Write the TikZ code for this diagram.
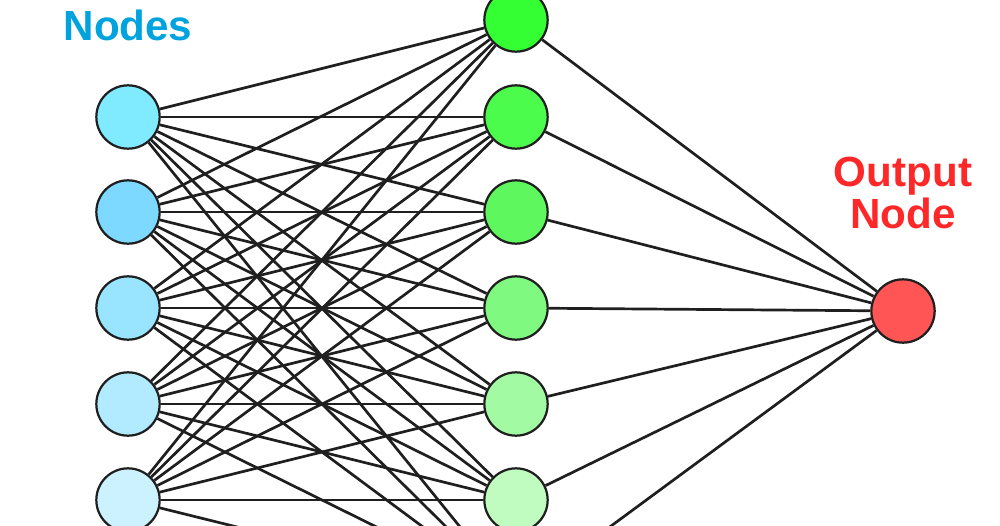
\documentclass[tikz,border=0pt]{standalone}
\usepackage{fontspec}
\setmainfont{Liberation Sans}
\usetikzlibrary{backgrounds}
\begin{document}
\begin{tikzpicture}[x=0.03cm,y=-0.03cm,
  neuron/.style={circle,draw=black!88,line width=1.9pt,minimum size=1.9cm,inner sep=0pt},
  conn/.style={draw=black!88,line width=2.3pt},
  lbl/.style={font=\bfseries\fontsize{36}{40}\selectfont}]
\useasboundingbox (0,0) rectangle (1000,525);
\clip (0,0) rectangle (1000,525);
\definecolor{i1}{HTML}{80EAFF}\definecolor{i2}{HTML}{7DD9FF}\definecolor{i3}{HTML}{99E5FF}
\definecolor{i4}{HTML}{B2EBFF}\definecolor{i5}{HTML}{CDF2FF}
\definecolor{h1}{HTML}{33FF33}\definecolor{h2}{HTML}{4CFC4C}\definecolor{h3}{HTML}{5EF85E}
\definecolor{h4}{HTML}{80F980}\definecolor{h5}{HTML}{A2FBA2}\definecolor{h6}{HTML}{C0FCC0}\definecolor{h7}{HTML}{D8FDD8}
\definecolor{outc}{HTML}{FF5555}
\foreach \i/\y in {1/117,2/212,3/308,4/404,5/500}
  \node[neuron,fill=i\i] (in\i) at (128,\y) {};
\foreach \j/\y in {1/20,2/117,3/212,4/308,5/404,6/500,7/596}
  \node[neuron,fill=h\j] (h\j) at (516,\y) {};
\node[neuron,fill=outc] (out) at (903,311) {};
\begin{scope}[on background layer]
\foreach \i in {1,...,5}
  \foreach \j in {1,...,7}
    \draw[conn] (in\i) -- (h\j);
\foreach \j in {1,...,7}
  \draw[conn] (h\j) -- (out);
\end{scope}
\node[lbl] (t1) at (128,25) {\textcolor[HTML]{00A3DD}{Nodes}};
\node[lbl,text={rgb,255:red,255;green,40;blue,40},align=center] (t2) at (903,193) {Output\\[-4pt]Node};
\end{tikzpicture}
\end{document}
